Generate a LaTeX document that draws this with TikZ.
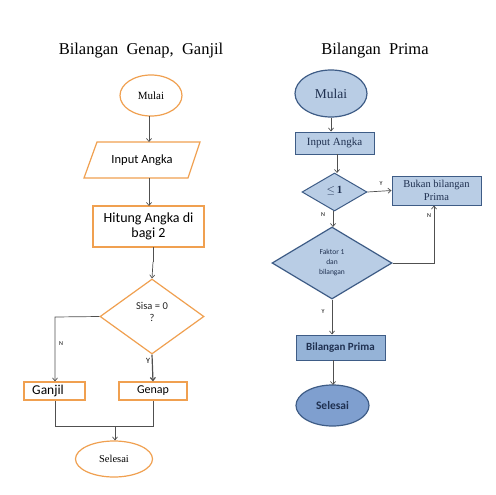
\documentclass[tikz,border=0pt]{standalone}
\usepackage{fontspec}
\setmainfont{Liberation Serif}
\newfontfamily\calib{Carlito}
\usetikzlibrary{shapes.geometric,arrows.meta}
\definecolor{orng}{HTML}{F0A050}
\definecolor{lblue}{HTML}{B9CDE5}
\definecolor{mblue}{HTML}{95B3D7}
\definecolor{dblue}{HTML}{7F9FCF}
\definecolor{bstroke}{HTML}{3E5C86}
\definecolor{navy}{HTML}{1F3050}
\definecolor{lineg}{HTML}{505050}
\tikzset{
  obox/.style={draw=orng,line width=1.2pt,rectangle,inner sep=0pt},
  oell/.style={draw=orng,line width=1.2pt,ellipse,inner sep=0pt},
  bbox/.style={draw=bstroke,line width=1pt,fill=lblue,rectangle,inner sep=0pt},
  bell/.style={draw=bstroke,line width=1.2pt,ellipse,inner sep=0pt},
  conn/.style={draw=lineg,line width=0.7pt},
  arr/.style={conn,-{Straight Barb[length=3pt,width=5pt]}},
  lbl/.style={font=\calib\fontsize{6}{7}\selectfont,text=black,inner sep=0pt},
}
\begin{document}
\begin{tikzpicture}[x=1pt,y=-1pt]
\useasboundingbox (0,0) rectangle (495,495);
\fill[white] (0,0) rectangle (495,495);
% titles
\node[font=\fontsize{16.5}{18}\selectfont] (t1) at (141,51) {Bilangan\ \ Genap,\ \ Ganjil};
\node[font=\fontsize{16.5}{18}\selectfont] (t2) at (375,51) {Bilangan\ \ Prima};

% ===== left chart =====
\node[oell,minimum width=62pt,minimum height=41pt,font=\fontsize{11}{12}\selectfont] (m1) at (151,95.5) {Mulai};
\node[rectangle,minimum width=92pt,minimum height=36pt,inner sep=0pt,font=\calib\fontsize{12.5}{14}\selectfont] (in1) at (142,160) {Input Angka};
\draw[orng,line width=1.2pt] (97,142) -- (200,142) -- (188,178) -- (84,178) -- cycle;
\node[obox,minimum width=111pt,minimum height=41pt,align=center,font=\calib\fontsize{14}{15.5}\selectfont] (hit) at (148.5,226.5) {Hitung Angka di\\bagi 2};
\node[draw=orng,line width=1.2pt,diamond,minimum width=104pt,minimum height=75pt,inner sep=0pt,aspect=1.39] (d1) at (152,316.5) {};
\node[font=\calib\fontsize{10.5}{12}\selectfont,align=center,text=black!85] (d1t) at (152,312) {Sisa = 0\\?};
\node[obox,minimum width=61pt,minimum height=18pt,font=\calib\fontsize{13.5}{15}\selectfont] (gj) at (54.5,391) {\hspace*{-13pt}Ganjil};
\node[obox,minimum width=68pt,minimum height=18pt,font=\calib\fontsize{12}{13}\selectfont] (gn) at (153,391) {Genap};
\node[oell,minimum width=77pt,minimum height=36pt,font=\fontsize{10.5}{12}\selectfont] (s1) at (114,459) {Selesai};
\coordinate (jn) at (115,426);
\coordinate (nleft) at (55,317);

\draw[arr] (149,116) -- (149,142);
\draw[arr] (149,178) -- (149,206);
\draw[conn] (153,247) -- (153,262);
\draw[arr] (153,262) -- (d1.north);
\draw[arr] (d1.west) -- (nleft) -- (gj.north -| nleft);
\node[lbl] (nl) at (61,344) {N};
\draw[arr,line width=1.2pt] (d1.south) -- (gn.north);
\node[lbl,font=\calib\fontsize{8}{9}\selectfont] (yl) at (148,361) {Y};
\draw[conn] (gj.south -| nleft) -- (nleft |- jn) -- (jn -| gn.south) -- (gn.south);
\draw[arr] (jn) -- (s1.north -| jn);

% ===== right chart =====
\node[bell,fill=lblue,minimum width=72pt,minimum height=47pt,font=\fontsize{13.5}{15}\selectfont,text=navy] (m2) at (331,93.5) {Mulai};
\node[bbox,minimum width=79pt,minimum height=22pt,font=\fontsize{11}{12}\selectfont,text=navy] (in2) at (334.5,143) {Input Angka};
\node[draw=bstroke,line width=1pt,fill=lblue,diamond,minimum width=65pt,minimum height=38pt,aspect=1.7,inner sep=0pt] (d2) at (334.5,192) {};
\node[font=\bfseries\fontsize{11}{13}\selectfont,text=navy] (d2t) at (334.5,191) {$\leq$\,1};
\node[bbox,minimum width=89pt,minimum height=29pt,align=center,font=\fontsize{10.5}{12.5}\selectfont,text=navy] (bk) at (436.5,190.5) {Bukan bilangan\\Prima};
\node[draw=bstroke,line width=1.2pt,fill=lblue,diamond,minimum width=120pt,minimum height=72pt,aspect=1.67,inner sep=0pt] (d3) at (332,263) {};
\node[font=\calib\fontsize{7.5}{10}\selectfont,align=center,text=navy] (d3t) at (332,263) {Faktor 1\\dan\\bilangan};
\node[bbox,fill=mblue,minimum width=89pt,minimum height=25pt,font=\calib\bfseries\fontsize{11}{13}\selectfont,text=navy] (bp) at (340.5,347.5) {Bilangan Prima};
\node[bell,fill=dblue,minimum width=73pt,minimum height=41pt,font=\calib\bfseries\fontsize{11.5}{13}\selectfont,text=navy] (s2) at (332.5,405.5) {Selesai};
\coordinate (rc) at (434,263);

\draw[arr] (m2.south) -- (m2.south |- in2.north);
\draw[arr] (337,154) -- (337,173);
\draw[arr] (d2.east) -- (bk.west);
\node[lbl] (y2) at (381,184) {Y};
\draw[arr] (333,211) -- (333,227);
\node[lbl] (n2) at (323,215) {N};
\draw[arr] (d3.east) -- (rc) -- (rc |- bk.south);
\node[lbl] (n3) at (429,216) {N};
\draw[arr] (d3.south) -- (d3.south |- bp.north);
\node[lbl] (y3) at (323,312) {Y};
\draw[arr] (333,360) -- (333,385);
\end{tikzpicture}
\end{document}
